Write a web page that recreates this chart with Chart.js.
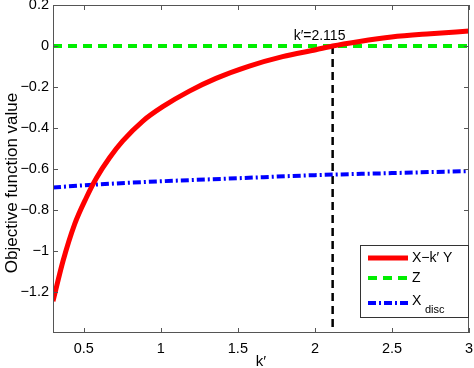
<!DOCTYPE html>
<html>
<head>
<meta charset="utf-8">
<script src="https://cdn.jsdelivr.net/npm/chart.js@4.4.1/dist/chart.umd.min.js"></script>
<style>
  body { margin: 0; background: #fff; }
  canvas { display: block; }
</style>
</head>
<body>
<canvas id="objChart" width="474" height="368"></canvas>
<script>
// values
const kRed = [0.3, 0.365, 0.44, 0.516, 0.581, 0.667, 0.753, 0.883, 1.012, 1.185, 1.358, 1.574, 1.79, 2.006, 2.115, 2.28, 2.497, 2.75, 3.0];
const redValues = [-1.245, -1.049, -0.870, -0.740, -0.645, -0.545, -0.463, -0.366, -0.296, -0.220, -0.158, -0.098, -0.052, -0.018, 0, 0.021, 0.044, 0.060, 0.073];
const kBlue = [0.3, 0.6, 1.0, 1.5, 2.0, 2.5, 3.0];
const blueValues = [-0.69, -0.675, -0.66, -0.645, -0.63, -0.62, -0.61];
const kZ = [0.3, 3.0];
const zValues = [0, 0];
const kStar = 2.115;

const xTicks = [0.5, 1, 1.5, 2, 2.5, 3];
const yTicks = [-1.2, -1, -0.8, -0.6, -0.4, -0.2, 0, 0.2];

const FONT = '"Liberation Sans", Arial, sans-serif';

function fmt(v) {
    return String(+(+v).toFixed(2)).replace('-', '\u2212');
}

function pts(xs, ys) {
    return xs.map((x, i) => ({ x: x, y: ys[i] }));
}

// box with inward ticks on all four sides, titles, label, legend
const axesBox = {
    id: 'axesBox',
    afterDraw(chart) {
        const { ctx, chartArea: a, scales: { x, y } } = chart;
        ctx.save();
        ctx.strokeStyle = '#555';
        ctx.lineWidth = 1;
        ctx.strokeRect(a.left + 0.5, a.top + 0.5, a.right - a.left - 1, a.bottom - a.top - 1);
        ctx.beginPath();
        xTicks.forEach(v => {
            const px = Math.round(x.getPixelForValue(v)) + 0.5;
            ctx.moveTo(px, a.bottom); ctx.lineTo(px, a.bottom - 5);
            ctx.moveTo(px, a.top); ctx.lineTo(px, a.top + 5);
        });
        yTicks.forEach(v => {
            const py = Math.round(y.getPixelForValue(v)) + 0.5;
            ctx.moveTo(a.left, py); ctx.lineTo(a.left + 5, py);
            ctx.moveTo(a.right, py); ctx.lineTo(a.right - 5, py);
        });
        ctx.stroke();

        // axis titles
        ctx.fillStyle = '#000';
        ctx.textAlign = 'center';
        ctx.textBaseline = 'middle';
        ctx.font = '15px ' + FONT;
        ctx.fillText('k\u2032', (a.left + a.right) / 2, 362);
        ctx.save();
        ctx.translate(12, 183);
        ctx.rotate(-Math.PI / 2);
        ctx.font = '17px ' + FONT;
        ctx.fillText('Objective function value', 0, 0);
        ctx.restore();

        // marker label
        ctx.font = '14px ' + FONT;
        ctx.textAlign = 'left';
        ctx.textBaseline = 'alphabetic';
        ctx.fillText('k\u2032=2.115', x.getPixelForValue(kStar) - 39, 40);

        // legend
        const ds = chart.data.datasets;
        const box = { left: 360, top: 245, right: a.right, bottom: 318 };
        ctx.fillStyle = '#fff';
        ctx.fillRect(box.left, box.top, box.right - box.left, box.bottom - box.top);
        ctx.strokeStyle = '#333';
        ctx.lineWidth = 1;
        ctx.strokeRect(box.left + 0.5, box.top + 0.5, box.right - box.left - 1, box.bottom - box.top - 1);
        const rows = [box.top + 13, box.top + 33, box.top + 58];
        ctx.font = '14px ' + FONT;
        ctx.textBaseline = 'middle';
        for (let i = 0; i < 3; i++) {
            ctx.save();
            ctx.strokeStyle = ds[i].borderColor;
            ctx.lineWidth = ds[i].borderWidth;
            ctx.setLineDash(ds[i].borderDash || []);
            ctx.beginPath();
            ctx.moveTo(box.left + 8, rows[i]);
            ctx.lineTo(box.left + 48, rows[i]);
            ctx.stroke();
            ctx.restore();
            ctx.fillStyle = '#000';
            ctx.fillText(ds[i].label, box.left + 52, rows[i] + (i === 2 ? -2 : 0));
        }
        ctx.font = '11px ' + FONT;
        ctx.fillText('disc', box.left + 65, rows[2] + 7);
        ctx.restore();
    }
};

const ctx = document.getElementById('objChart').getContext('2d');
const objChart = new Chart(ctx, {
    type: 'line',
    data: {
        datasets: [{
            label: 'X\u2212k\u2032 Y',
            data: pts(kRed, redValues),
            borderColor: '#ff0000',
            borderWidth: 5,
            cubicInterpolationMode: 'monotone'
        }, {
            label: 'Z',
            data: pts(kZ, zValues),
            borderColor: '#00ee00',
            borderWidth: 4,
            borderDash: [9, 6]
        }, {
            label: 'X',
            data: pts(kBlue, blueValues),
            borderColor: '#0000ff',
            borderWidth: 4,
            borderDash: [8, 3, 2, 3],
            cubicInterpolationMode: 'monotone'
        }, {
            label: 'k*',
            data: pts([kStar, kStar], [0, -1.4]),
            borderColor: '#000',
            borderWidth: 2.5,
            borderDash: [8, 5]
        }]
    },
    options: {
        responsive: false,
        animation: false,
        layout: { padding: { top: 5, right: 5, left: 0, bottom: 0 } },
        elements: { point: { radius: 0 } },
        plugins: {
            legend: { display: false },
            tooltip: { enabled: false }
        },
        scales: {
            x: {
                type: 'linear',
                min: 0.3,
                max: 3,
                afterBuildTicks: s => { s.ticks = xTicks.map(v => ({ value: v })); },
                afterFit: s => { s.height = 35; s.paddingLeft = 0; s.paddingRight = 0; },
                ticks: { callback: fmt, color: '#000', padding: 7, maxRotation: 0, autoSkip: false, font: { size: 14.5, family: FONT } },
                grid: { display: false, drawTicks: false },
                border: { display: false }
            },
            y: {
                min: -1.4,
                max: 0.2,
                afterBuildTicks: s => { s.ticks = yTicks.map(v => ({ value: v })); },
                afterFit: s => { s.width = 53; s.paddingTop = 0; s.paddingBottom = 0; },
                ticks: { callback: fmt, color: '#000', padding: 4, autoSkip: false, font: { size: 14.5, family: FONT } },
                grid: { display: false, drawTicks: false },
                border: { display: false }
            }
        }
    },
    plugins: [axesBox]
});
</script>
</body>
</html>
